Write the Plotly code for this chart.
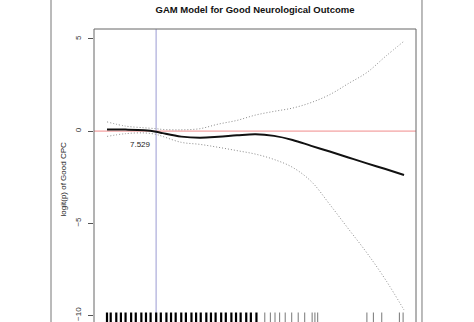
import plotly.graph_objects as go

# ---- data ----
x_grid = [7.0, 7.2, 7.4, 7.529, 7.6, 7.8, 8.0, 8.2, 8.4, 8.6, 8.8, 9.0, 9.2, 9.4, 9.6, 9.8, 10.0, 10.2]
fit = [0.08, 0.08, 0.05, -0.03, -0.11, -0.30, -0.36, -0.31, -0.23, -0.17, -0.26, -0.48, -0.80, -1.11, -1.43, -1.75, -2.06, -2.38]
upper = [0.50, 0.27, 0.18, 0.13, 0.09, 0.07, 0.13, 0.38, 0.58, 0.87, 1.07, 1.25, 1.55, 1.98, 2.58, 3.18, 4.05, 4.88]
lower = [-0.29, -0.14, -0.10, -0.18, -0.29, -0.61, -0.72, -0.88, -1.06, -1.25, -1.54, -1.97, -2.73, -3.98, -5.30, -6.61, -8.06, -9.71]

rug_dense = [7.00, 7.04, 7.10, 7.15, 7.20, 7.26, 7.31, 7.37, 7.42, 7.47, 7.53, 7.58, 7.64, 7.69, 7.74,
             7.80, 7.85, 7.91, 7.96, 8.01, 8.07, 8.12, 8.17, 8.23, 8.28, 8.34, 8.39, 8.44, 8.50, 8.55, 8.61]
rug_sparse = [8.70, 8.76, 8.81, 8.86, 8.92, 8.99, 9.06, 9.13, 9.21, 9.24, 9.27,
              9.80, 9.87, 9.96, 10.15, 10.19]

cut_x = 7.529
cut_label = "7.529"
y_ticks = [-10, -5, 0, 5]
title_text = "GAM Model for Good Neurological Outcome"
y_title = "logit(p) of Good CPC"

x_range = [6.860, 10.329]
y_range = [-10.36, 5.54]
rug_len = 0.515  # in y units (approx 3% of plot)

FONT = "Liberation Sans, Arial, sans-serif"


def rug_xy(vals):
    xs, ys = [], []
    for v in vals:
        xs += [v, v, None]
        ys += [y_range[0], y_range[0] + rug_len, None]
    return xs, ys


fig = go.Figure()

# reference lines
fig.add_trace(go.Scatter(x=[x_range[0], x_range[1]], y=[0, 0], mode="lines",
                         line=dict(color="#f08a8a", width=1), hoverinfo="skip"))
fig.add_trace(go.Scatter(x=[cut_x, cut_x], y=[y_range[0], y_range[1]], mode="lines",
                         line=dict(color="#9a9ad2", width=1), hoverinfo="skip"))

# CI bands
ci_line = dict(color="#8a8a8a", width=1, dash="1px,2px", shape="spline", smoothing=1.0)
fig.add_trace(go.Scatter(x=x_grid, y=upper, mode="lines", line=ci_line))
fig.add_trace(go.Scatter(x=x_grid, y=lower, mode="lines", line=ci_line))
# fit
fig.add_trace(go.Scatter(x=x_grid, y=fit, mode="lines",
                         line=dict(color="#111111", width=2, shape="spline", smoothing=1.0)))

# rug
rx, ry = rug_xy(rug_dense)
fig.add_trace(go.Scatter(x=rx, y=ry, mode="lines", line=dict(color="#000000", width=2.2), hoverinfo="skip"))
rx, ry = rug_xy(rug_sparse)
fig.add_trace(go.Scatter(x=rx, y=ry, mode="lines", line=dict(color="#777777", width=1), hoverinfo="skip"))

# label for the cut point
fig.add_annotation(x=cut_x, y=0, text=cut_label, showarrow=False,
                   xanchor="right", yanchor="top", xshift=-4, yshift=-8, borderpad=0,
                   font=dict(family=FONT, size=8, color="#222222"))

# y-axis title (R centres it a little lower than the visible area)
fig.add_annotation(xref="paper", yref="y", x=-0.096, y=-2.62, text=y_title, showarrow=False,
                   textangle=-90, xanchor="center", yanchor="middle",
                   font=dict(family=FONT, size=8, color="#222222"))

# plot box (left, top, right) and outer frame
box = dict(color="#666666", width=1)
fig.add_shape(type="line", xref="paper", yref="paper", x0=0, x1=0, y0=0, y1=1, line=box)
fig.add_shape(type="line", xref="paper", yref="paper", x0=1, x1=1, y0=0, y1=1, line=box)
fig.add_shape(type="line", xref="paper", yref="paper", x0=0, x1=1, y0=1, y1=1, line=box)
frame = dict(color="#777777", width=1)
fig.add_shape(type="line", xref="paper", yref="paper", x0=-0.1335, x1=-0.1335, y0=-0.1, y1=1.2, line=frame)
fig.add_shape(type="line", xref="paper", yref="paper", x0=1.0186, x1=1.0186, y0=-0.1, y1=1.2, line=frame)

fig.update_layout(
    width=474, height=322,
    margin=dict(l=94, r=58, t=29, b=0),
    paper_bgcolor="white", plot_bgcolor="white",
    showlegend=False,
    title=dict(text="<b>" + title_text + "</b>", x=255 / 474, xanchor="center",
               y=1 - 10 / 322, yanchor="middle", yref="container",
               font=dict(family=FONT, size=9.5, color="#111111")),
    xaxis=dict(range=x_range, showgrid=False, zeroline=False, showline=False,
               showticklabels=False, ticks=""),
    yaxis=dict(range=y_range, showgrid=False, zeroline=False, showline=False,
               tickvals=y_ticks, ticks="outside", ticklen=5, tickcolor="#555555",
               tickangle=-90, tickfont=dict(family=FONT, size=8, color="#333333"),
               ticklabelstandoff=4),
)

fig.write_html("out.html")
